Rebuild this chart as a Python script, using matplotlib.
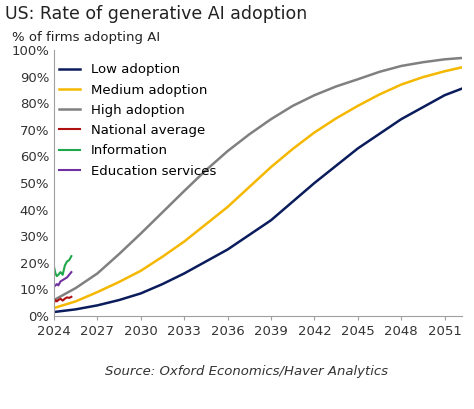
import matplotlib
matplotlib.use("Agg")
import matplotlib.pyplot as plt

years = [2024, 2025.5, 2027, 2028.5, 2030, 2031.5, 2033, 2034.5, 2036, 2037.5, 2039, 2040.5, 2042,
         2043.5, 2045, 2046.5, 2048, 2049.5, 2051, 2052.2]
low = [1.5, 2.5, 4, 6, 8.5, 12, 16, 20.5, 25, 30.5, 36, 43, 50, 56.5, 63, 68.5, 74, 78.5, 83, 85.5]
medium = [3, 5.5, 9, 12.8, 17, 22.3, 28, 34.5, 41, 48.5, 56, 62.8, 69, 74.3, 79, 83.3, 87, 89.8, 92, 93.5]
high = [6, 10.5, 16, 23.3, 31, 39, 47, 54.8, 62, 68.3, 74, 79, 83, 86.3, 89, 91.8, 94, 95.4, 96.5, 97]
short_years = [2024.0, 2024.1, 2024.2, 2024.3, 2024.45, 2024.6, 2024.75, 2024.9, 2025.05, 2025.2]
national = [5, 6, 5.5, 6, 6.5, 5.8, 6.5, 7, 6.8, 7.2]
information = [18.5, 16, 15, 15.5, 16.5, 15.5, 19, 20.5, 21, 22.5]
education = [11, 11.5, 12, 11.5, 13, 13.5, 14, 14.5, 15.5, 16.5]
xticks = [2024, 2027, 2030, 2033, 2036, 2039, 2042, 2045, 2048, 2051]

fig = plt.figure(figsize=(4.74, 4.09), dpi=100)
ax = fig.add_axes([54/474, 1-316/409, (462-54)/474, (316-50)/409])
ax.plot(years, low, color="#0a1c5c", lw=1.8, label="Low adoption")
ax.plot(years, medium, color="#f5b800", lw=1.8, label="Medium adoption")
ax.plot(years, high, color="#808080", lw=1.8, label="High adoption")
ax.plot(short_years, national, color="#b01010", lw=1.5, label="National average")
ax.plot(short_years, information, color="#1fa84a", lw=1.5, label="Information")
ax.plot(short_years, education, color="#7030a0", lw=1.5, label="Education services")
ax.set_xlim(2024, 2052.2)
ax.set_ylim(0, 100)
ax.set_xticks(xticks)
ax.set_yticks(range(0, 101, 10))
ax.set_yticklabels([f"{v}%" for v in range(0, 101, 10)])
for s in ["top", "right"]:
    ax.spines[s].set_visible(False)
for s in ["left", "bottom"]:
    ax.spines[s].set_color("#a0a0a0")
ax.tick_params(colors="#333333", labelsize=9.5, length=3, color="#a0a0a0")
ax.tick_params(axis="y", length=0)
ax.legend(loc="upper left", bbox_to_anchor=(0.0, 0.97), frameon=False, fontsize=9.5,
          handlelength=1.6, labelspacing=0.55, borderaxespad=0)
fig.text(5/474, 1-14/409, "US: Rate of generative AI adoption", fontsize=12.5, va="center", color="#222222")
fig.text(12/474, 1-37/409, "% of firms adopting AI", fontsize=9.5, va="center", color="#222222")
fig.text(0.52, 1-372/409, "Source: Oxford Economics/Haver Analytics", fontsize=9.5, style="italic",
         ha="center", va="center", color="#333333")
fig.savefig("out.png", dpi=100)
